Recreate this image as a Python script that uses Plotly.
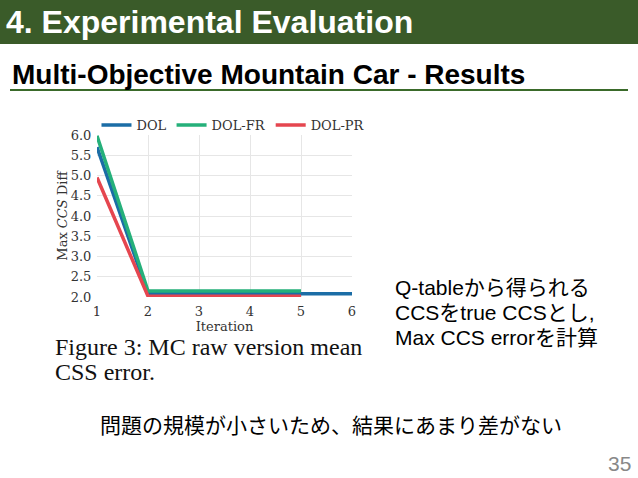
import plotly.graph_objects as go

iterations = [1, 2, 3, 4, 5, 6]
dol = [5.7, 2.08, 2.08, 2.08, 2.08, 2.08]
dol_fr = [5.98, 2.15, 2.15, 2.15, 2.15]
dol_pr = [4.95, 2.02, 2.02, 2.02, 2.02]
series_names = ["DOL", "DOL-FR", "DOL-PR"]
series_colors = ["#1b6da6", "#25b07a", "#e5464f"]

W, H = 638, 478
L, R, T, B = 97, 352, 135, 297


def px(x):
    return (x - L) / (R - L)


def py(y):
    return (B - y) / (B - T)


fig = go.Figure()
for name, vals, col in zip(series_names, [dol, dol_fr, dol_pr], series_colors):
    fig.add_trace(go.Scatter(x=iterations[:len(vals)], y=vals, mode="lines", name=name,
                             line=dict(color=col, width=3.5)))

serif = "DejaVu Serif"
fig.update_layout(
    width=W, height=H,
    margin=dict(l=L, r=W - R, t=T, b=H - B, pad=0, autoexpand=False),
    paper_bgcolor="white", plot_bgcolor="white",
    showlegend=True,
    legend=dict(orientation="h", x=-0.002, y=py(125), xanchor="left", yanchor="middle",
                font=dict(family=serif, size=13, color="#333"), bgcolor="rgba(0,0,0,0)",
                itemwidth=30, tracegroupgap=0),
    xaxis=dict(range=[1, 6], tickvals=iterations, showgrid=True, gridcolor="#e6e6e6",
               zeroline=False, showline=False, ticks="outside", ticklen=2, tickcolor="rgba(0,0,0,0)",
               tickfont=dict(family=serif, size=13, color="#333"),
               title=dict(text="Iteration", font=dict(family=serif, size=13, color="#333"), standoff=0)),
    yaxis=dict(range=[2, 6], dtick=0.5, tickformat=".1f", showgrid=True, gridcolor="#e6e6e6",
               zeroline=False, showline=False, ticks="outside", ticklen=2, tickcolor="rgba(0,0,0,0)",
               tickfont=dict(family=serif, size=13, color="#333"),
               title=dict(text="Max <i>CCS</i> Diff", font=dict(family=serif, size=13, color="#333"), standoff=0)),
)

shapes = [
    dict(type="rect", xref="paper", yref="paper", x0=px(0), x1=px(W), y0=py(0), y1=py(44),
         fillcolor="#3a5b29", line=dict(width=0), layer="below"),
    dict(type="line", xref="paper", yref="paper", x0=px(10), x1=px(628), y0=py(90), y1=py(90),
         line=dict(color="#3a6a2a", width=2)),
]
fig.update_layout(shapes=shapes)

sans = "Liberation Sans, Noto Sans CJK JP"


def ann(text, x, y, size, color="black", family=sans, xanchor="left", bold=False):
    if bold:
        text = "<b>" + text + "</b>"
    fig.add_annotation(text=text, xref="paper", yref="paper", x=px(x), y=py(y), xanchor=xanchor,
                       yanchor="middle", showarrow=False, align="left",
                       font=dict(family=family, size=size, color=color))


ann("4. Experimental Evaluation", 4, 22, 32, color="white", bold=True)
ann("Multi-Objective Mountain Car - Results", 10, 75, 28, bold=True)
ann("Figure 3: MC raw version mean", 53, 347, 24, color="#111", family="Liberation Serif")
ann("CSS error.", 53, 372, 24, color="#111", family="Liberation Serif")
ann("Q-tableから得られる", 393, 287, 21)
ann("CCSをtrue CCSとし,", 393, 312, 21)
ann("Max CCS errorを計算", 393, 337, 21)
ann("問題の規模が小さいため、結果にあまり差がない", 331, 425, 21, xanchor="center")
ann("35", 633, 464, 21, color="#888", xanchor="right")

fig.write_html("out.html", config={"displayModeBar": False},
               post_script="document.body.style.margin='0px';")
